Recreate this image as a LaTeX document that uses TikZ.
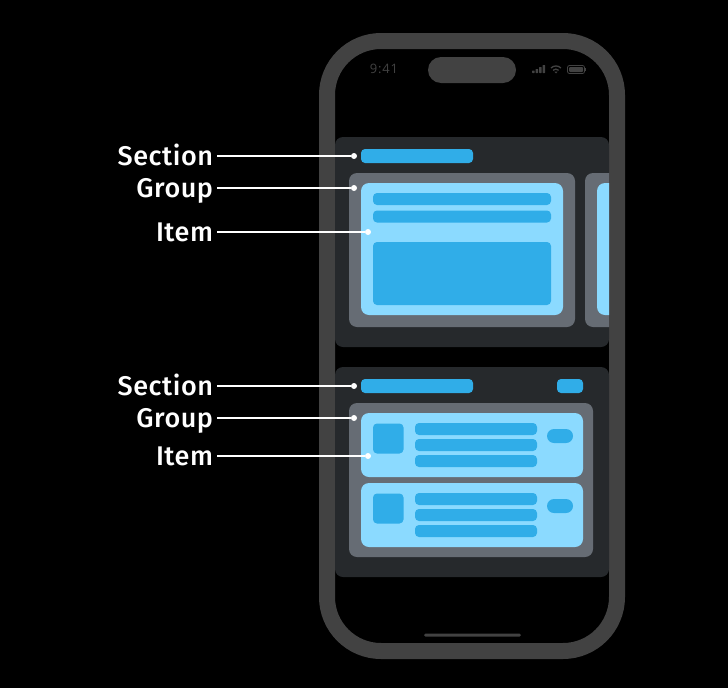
\documentclass[tikz,border=0pt]{standalone}
\usepackage{fontspec}
\setmainfont{Open Sans}
\newfontfamily\labelfont[LetterSpace=2]{Fira Sans Medium}
\newfontfamily\clockfont[LetterSpace=6]{Open Sans}
\usepackage{xcolor}
\usetikzlibrary{calc, positioning}

\definecolor{phonegray}{HTML}{424242}
\definecolor{sectiongray}{HTML}{26292C}
\definecolor{groupgray}{HTML}{666C74}
\definecolor{itemblue}{HTML}{8BDAFF}
\definecolor{barblue}{HTML}{30ADE8}

\tikzset{
    sectionbox/.style={fill=sectiongray, rounded corners=8pt},
    groupbox/.style={fill=groupgray, rounded corners=8pt},
    itembox/.style={fill=itemblue, rounded corners=8pt},
    barbox/.style={fill=barblue, rounded corners=4pt},
    labeltext/.style={anchor=east, text=white, inner sep=0pt, outer xsep=4pt, text height=25pt, text depth=6pt,
        font=\labelfont\fontsize{27}{27}\selectfont},
    labeldot/.style={circle, fill=white, inner sep=0pt, minimum size=6pt},
    labelline/.style={white, line width=2pt}
}

\begin{document}
\begin{tikzpicture}[x=1pt, y=-1pt]
    \fill[black] (0,0) rectangle (728,688);
    \useasboundingbox (0,0) rectangle (728,688);

    % phone
    \draw[phonegray, line width=16pt, rounded corners=54pt] (327,41) rectangle (617,651);
    \fill[phonegray, rounded corners=13pt] (428,57) rectangle (516,83);
    \fill[phonegray, rounded corners=1.5pt] (424,633.5) rectangle (521,636.5);

    % status bar
    \node[text=phonegray, inner sep=0pt, font=\clockfont\fontsize{13}{13}\selectfont] (clock) at (384,69) {9:41};
    \foreach \x/\h in {532/2.5, 535.5/4, 539/6, 542.5/8}
        \fill[phonegray, rounded corners=0.5pt] (\x,73) rectangle ++(2.5,-\h);
    \draw[phonegray, line width=1.3pt] (551,68) arc[start angle=-135, end angle=-45, radius=7];
    \draw[phonegray, line width=1.3pt] (553,70.3) arc[start angle=-135, end angle=-45, radius=4];
    \fill[phonegray] (556,73.5) -- (554.3,71.5) -- (557.7,71.5) -- cycle;
    \draw[phonegray, line width=0.8pt, rounded corners=2pt] (567.5,65.5) rectangle (584.5,73.5);
    \fill[phonegray, rounded corners=1pt] (569,67) rectangle (583,72);
    \fill[phonegray] (585.3,68) rectangle (586.3,71);

    % top section
    \fill[sectionbox] (335,137) rectangle (609,347);
    \fill[barbox] (361,149) rectangle (473,163);
    \fill[groupbox] (349,173) rectangle (575,327);
    \fill[itembox] (361,183) rectangle (563,315);
    \fill[barbox] (373,193) rectangle (551,205);
    \fill[barbox] (373,210.5) rectangle (551,222.5);
    \fill[barbox] (373,242) rectangle (551,305);
    \begin{scope}
        \clip (335,137) rectangle (609,347);
        \fill[groupbox] (585,173) rectangle (811,327);
        \fill[itembox] (597,183) rectangle (799,315);
    \end{scope}

    % bottom section
    \fill[sectionbox] (335,367) rectangle (609,577);
    \fill[barbox] (361,379) rectangle (473,393);
    \fill[barbox] (557,379) rectangle (583,393);
    \fill[groupbox] (349,403) rectangle (593,557);
    \foreach \y in {413, 483} {
        \fill[itembox] (361,\y) rectangle (583,\y+64);
        \fill[barbox] (373,\y+10.5) rectangle (403.5,\y+40.5);
        \fill[barbox] (415,\y+10) rectangle (537,\y+22);
        \fill[barbox] (415,\y+26) rectangle (537,\y+38);
        \fill[barbox] (415,\y+42) rectangle (537,\y+54);
        \fill[barblue, rounded corners=7pt] (547,\y+16) rectangle (573,\y+30);
    }

    % labels
    \node[labeltext] (sectionA) at (217,156) {Section};
    \node[labeltext] (groupA) at (217,188) {Group};
    \node[labeltext] (itemA) at (217,232) {Item};
    \node[labeltext] (sectionB) at (217,386) {Section};
    \node[labeltext] (groupB) at (217,418) {Group};
    \node[labeltext] (itemB) at (217,456) {Item};

    \node[labeldot] (sectionAdot) at (354,156) {};
    \node[labeldot] (groupAdot) at (354,188) {};
    \node[labeldot] (itemAdot) at (368,232) {};
    \node[labeldot] (sectionBdot) at (354,386) {};
    \node[labeldot] (groupBdot) at (354,418) {};
    \node[labeldot] (itemBdot) at (368,456) {};

    \foreach \a in {sectionA, groupA, itemA, sectionB, groupB, itemB}
        \draw[labelline] (\a.east) -- (\a dot);
\end{tikzpicture}
\end{document}
